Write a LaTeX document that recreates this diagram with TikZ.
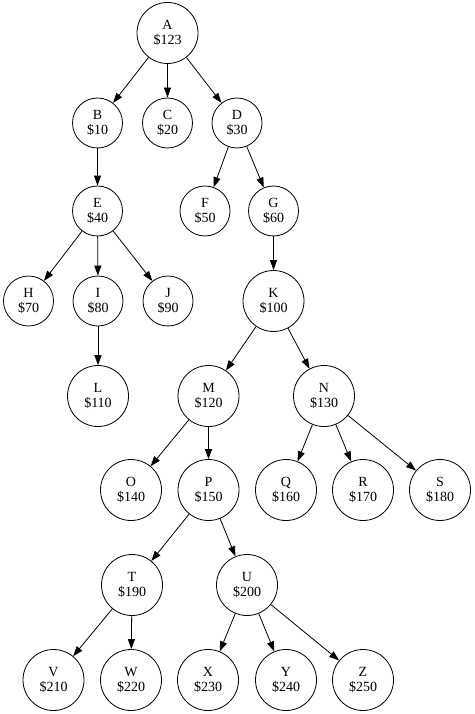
\documentclass[tikz,border=0pt]{standalone}
\usepackage{fontspec}
\setmainfont{Liberation Serif}
\usetikzlibrary{arrows.meta}

\begin{document}
\begin{tikzpicture}[x=1pt, y=-1pt, font=\fontsize{14}{15}\selectfont,
    chico/.style={circle, draw, line width=0.8pt, minimum size=50pt, inner sep=0pt, align=center},
    grande/.style={chico, minimum size=61pt},
    flecha/.style={-{Triangle[length=10pt, width=7pt]}, line width=0.8pt}]

    \useasboundingbox (0,0) rectangle (474,714);

    % nodos: #1 = estilo, #2 = nombre, #3 = posicion, #4 = precio
    \newcommand{\nodo}[4]{\node[#1] (#2) at (#3) {#2\\\$#4};}

    \nodo{grande}{A}{167.5,33}{123}

    \nodo{chico}{B}{97.5,123}{10}
    \nodo{chico}{C}{167.5,123}{20}
    \nodo{chico}{D}{237,123}{30}

    \nodo{chico}{E}{97.5,211}{40}
    \nodo{chico}{F}{205,211}{50}
    \nodo{chico}{G}{273.5,211}{60}

    \nodo{chico}{H}{28.5,301}{70}
    \nodo{chico}{I}{98,301}{80}
    \nodo{chico}{J}{168,301}{90}
    \nodo{grande}{K}{273.5,301}{100}

    \nodo{grande}{L}{98,396}{110}
    \nodo{grande}{M}{208.5,396}{120}
    \nodo{grande}{N}{324,396}{130}

    \nodo{grande}{O}{131,490}{140}
    \nodo{grande}{P}{208.5,490}{150}
    \nodo{grande}{Q}{286,490}{160}
    \nodo{grande}{R}{363,490}{170}
    \nodo{grande}{S}{440,490}{180}

    \nodo{grande}{T}{132,585}{190}
    \nodo{grande}{U}{247,585}{200}

    \nodo{grande}{V}{53.5,680}{210}
    \nodo{grande}{W}{131,680}{220}
    \nodo{grande}{X}{208,680}{230}
    \nodo{grande}{Y}{286,680}{240}
    \nodo{grande}{Z}{363,680}{250}

    % aristas
    \foreach \padre/\hijo in {A/B, A/C, A/D, B/E, D/F, D/G, E/H, E/I, E/J,
            G/K, I/L, K/M, K/N, M/O, M/P, N/Q, N/R, N/S, P/T, P/U,
            T/V, T/W, U/X, U/Y, U/Z}
        \draw[flecha] (\padre) -- (\hijo);

\end{tikzpicture}
\end{document}
